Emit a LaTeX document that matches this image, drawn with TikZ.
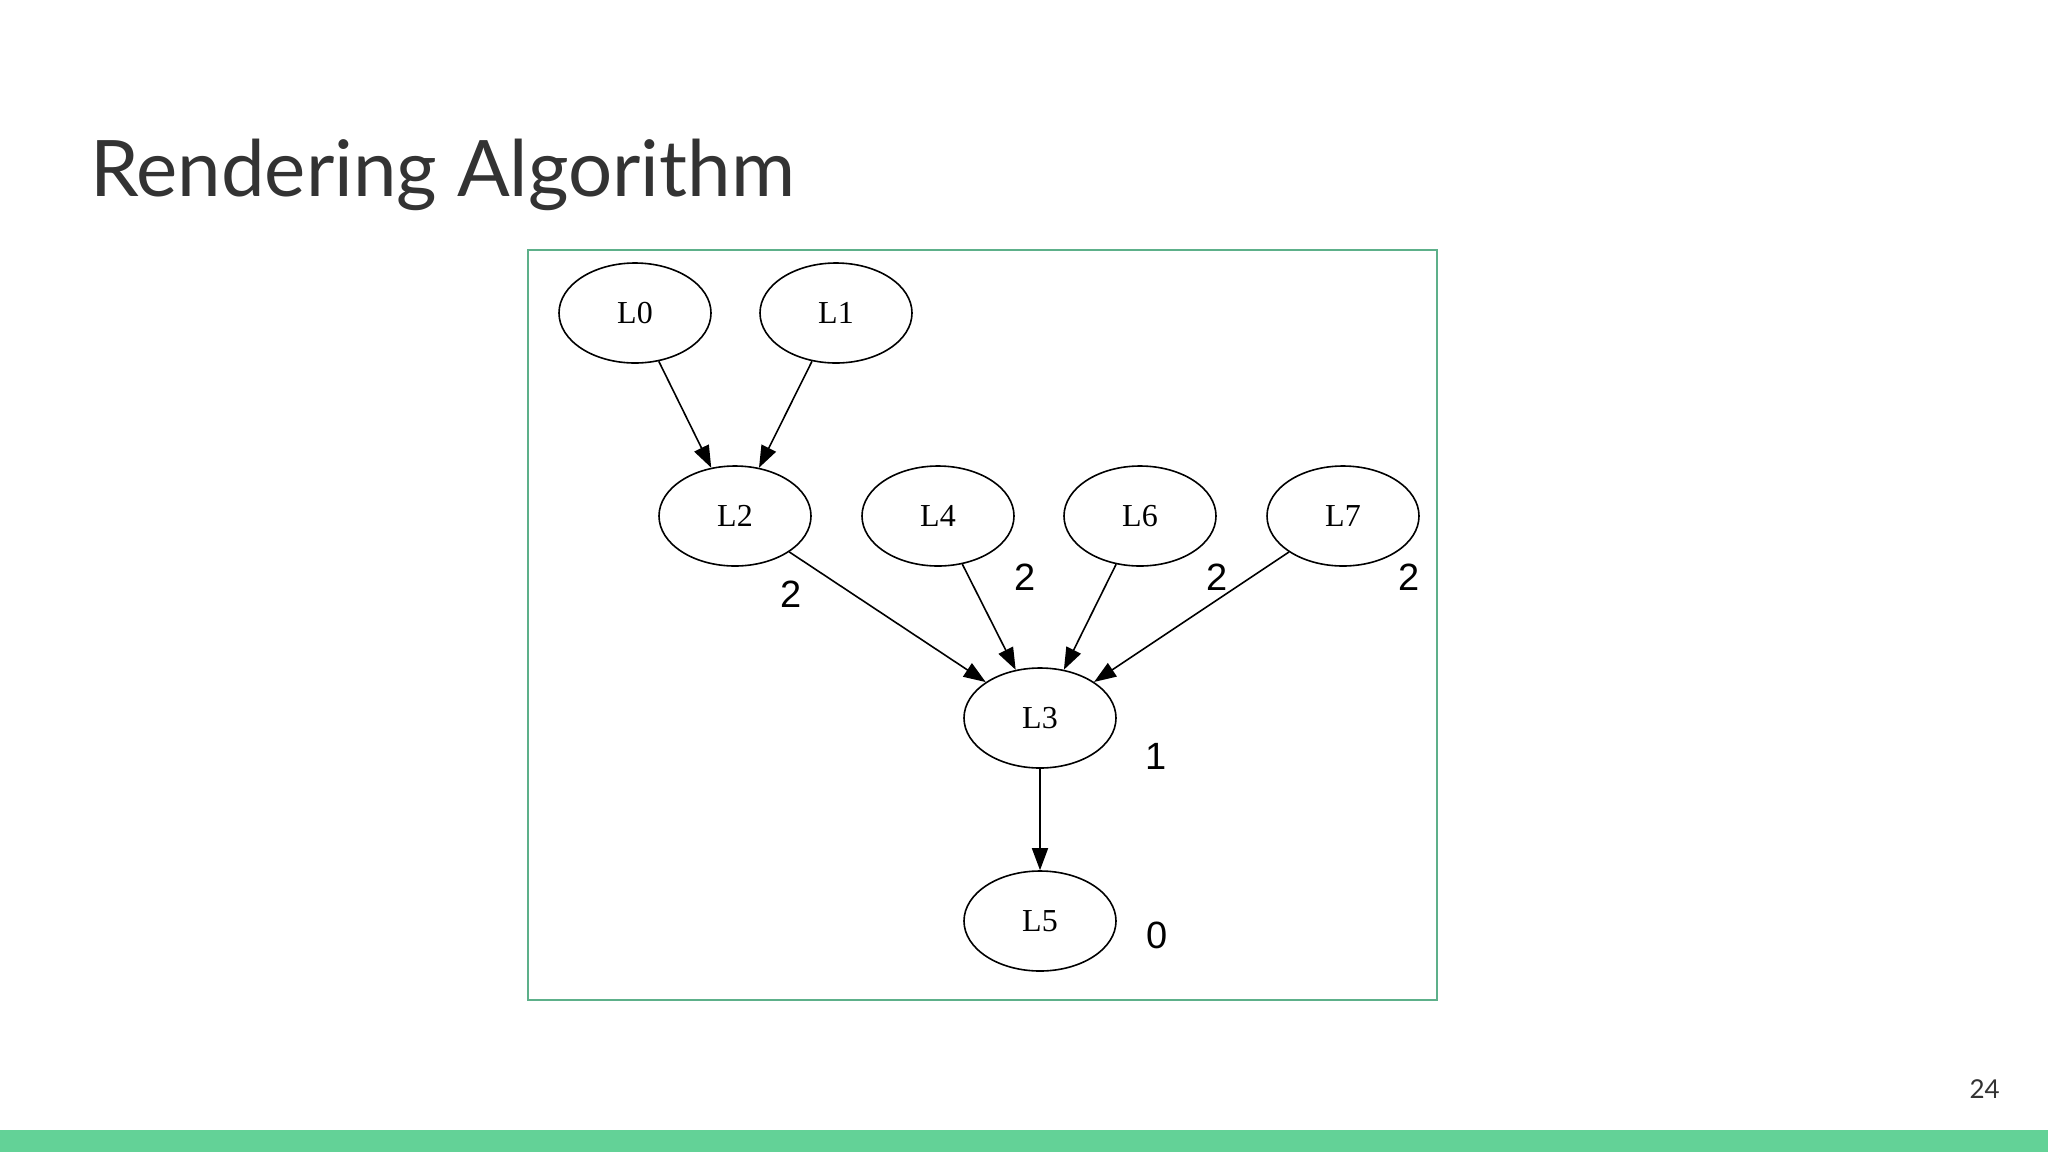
\documentclass[tikz,border=0pt]{standalone}
\usepackage{fontspec}
\setmainfont{Liberation Serif}
\newfontfamily\titlefont{Lato}
\newfontfamily\numfont{Liberation Sans}
\usetikzlibrary{shapes.geometric,arrows.meta}
\definecolor{bar}{HTML}{63D297}
\definecolor{frame}{HTML}{5DB08A}
\definecolor{titlegray}{HTML}{333333}
\begin{document}
\begin{tikzpicture}[x=1pt,y=-1pt,
  gnode/.style={draw,ellipse,line width=1.6pt,minimum width=152pt,minimum height=100pt,inner sep=0pt,font=\fontsize{32}{36}\selectfont},
  garrow/.style={line width=1.6pt,-{Triangle[length=22pt,width=16pt]}},
  rank/.style={font=\numfont\fontsize{38}{44}\selectfont,inner sep=0pt}]
\useasboundingbox (0,0) rectangle (2048,1152);
\fill[white] (0,0) rectangle (2048,1152);
\fill[bar] (0,1130) rectangle (2048,1152);
\node[anchor=base west,inner sep=0pt,text=titlegray,font=\titlefont\fontsize{78}{90}\selectfont] (title) at (90,196) {Rendering Algorithm};
\node[anchor=base east,inner sep=0pt,text=titlegray,font=\titlefont\fontsize{26}{30}\selectfont] (pg) at (2000,1098) {24};
\draw[frame,line width=1.5pt] (528,250) rectangle (1437,1000);
\node[gnode] (L0) at (635,313) {L0};
\node[gnode] (L1) at (836,313) {L1};
\node[gnode] (L2) at (735,516) {L2};
\node[gnode] (L4) at (938,516) {L4};
\node[gnode] (L6) at (1140,516) {L6};
\node[gnode] (L7) at (1343,516) {L7};
\node[gnode] (L3) at (1040,718) {L3};
\node[gnode] (L5) at (1040,921) {L5};
\draw[garrow] (L0) -- (L2);
\draw[garrow] (L1) -- (L2);
\draw[garrow] (L2) -- (L3);
\draw[garrow] (L4) -- (L3);
\draw[garrow] (L6) -- (L3);
\draw[garrow] (L7) -- (L3);
\draw[garrow] (L3) -- (L5);
\node[rank] (r2) at (791,594) {2};
\node[rank] (r4) at (1025,577) {2};
\node[rank] (r6) at (1217,577) {2};
\node[rank] (r7) at (1409,577) {2};
\node[rank] (r3) at (1156,756) {1};
\node[rank] (r5) at (1157,935) {0};
\end{tikzpicture}
\end{document}
